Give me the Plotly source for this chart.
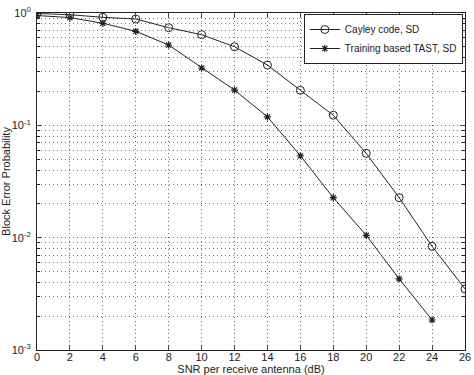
import plotly.graph_objects as go

snr = [0, 2, 4, 6, 8, 10, 12, 14, 16, 18, 20, 22, 24, 26]
cayley = [0.99, 0.966, 0.915, 0.884, 0.74, 0.641, 0.501, 0.344, 0.205, 0.123, 0.0563, 0.0227, 0.00837, 0.0035]
snr_tast = [0, 2, 4, 6, 8, 10, 12, 14, 16, 18, 20, 22, 24]
tast = [0.95, 0.91, 0.81, 0.687, 0.519, 0.324, 0.206, 0.119, 0.0536, 0.0227, 0.0105, 0.0043, 0.00185]

xticks = list(range(0, 27, 2))
yticks = [1e-3, 1e-2, 1e-1, 1]
ytext = ["10<sup>-3</sup>", "10<sup>-2</sup>", "10<sup>-1</sup>", "10<sup>0</sup>"]
yminor = [m * 10.0 ** e for e in (-3, -2, -1) for m in range(2, 10)]

fig = go.Figure()
fig.add_trace(go.Scatter(x=snr, y=cayley, mode="lines+markers", name="Cayley code, SD",
                         line=dict(color="#222", width=1),
                         marker=dict(symbol="circle-open", size=8, color="#222", line=dict(width=1))))
fig.add_trace(go.Scatter(x=snr_tast, y=tast, mode="lines+markers", name="Training based TAST, SD",
                         line=dict(color="#222", width=1),
                         marker=dict(symbol="asterisk-open", size=6, color="#222", line=dict(width=1.2))))

fig.update_layout(
    width=474, height=375,
    margin=dict(l=37, r=9, t=13, b=25),
    paper_bgcolor="white", plot_bgcolor="white",
    font=dict(family="Liberation Sans, Arial, sans-serif", size=11, color="#222"),
    showlegend=True,
    legend=dict(x=0.995, y=0.997, xanchor="right", yanchor="top",
                bgcolor="white", bordercolor="#222", borderwidth=1,
                font=dict(size=10), tracegroupgap=0, itemwidth=30),
)
fig.update_xaxes(range=[0, 26], tickvals=xticks, ticks="inside", ticklen=5,
                 ticklabelstandoff=-3,
                 showline=True, linecolor="#222", linewidth=1, mirror="ticks",
                 showgrid=True, gridcolor="#666", griddash="1px,3px", gridwidth=1,
                 zeroline=False, automargin=False,
                 title=dict(text="SNR per receive antenna (dB)", standoff=0, font=dict(size=11)))
fig.update_yaxes(type="log", range=[-3, 0], tickvals=yticks, ticktext=ytext,
                 ticks="inside", ticklen=5, ticklabelstandoff=3,
                 showline=True, linecolor="#222", linewidth=1, mirror="ticks",
                 showgrid=True, gridcolor="#666", griddash="1px,3px", gridwidth=1,
                 zeroline=False, automargin=False,
                 minor=dict(tickvals=yminor, showgrid=True, gridcolor="#777", griddash="1px,3px", gridwidth=1,
                            ticks="inside", ticklen=3, tickcolor="#222"),
                 title=dict(text="Block Error Probability", standoff=2, font=dict(size=11)))

# remove the browser's default 8px page margin so the 474x375 figure fills the window exactly
fig.write_html("out.html", config={"displayModeBar": False},
               post_script="document.body.style.margin='0';document.body.style.overflow='hidden';")
